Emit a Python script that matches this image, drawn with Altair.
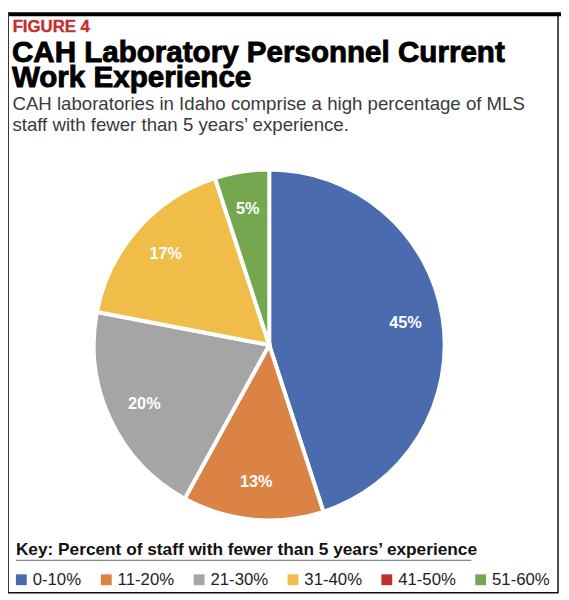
import altair as alt
import pandas as pd

# ---- data ----
categories = ["0-10%", "11-20%", "21-30%", "31-40%", "41-50%", "51-60%"]
shares = [45, 13, 20, 17, 0, 5]
colors = ["#4A6CAF", "#DB8245", "#A5A5A5", "#F0BD48", "#C0302F", "#74A74F"]

figure_label = ["FIGURE 4"]
title_lines = ["CAH Laboratory Personnel Current", "Work Experience"]
subtitle_lines = ["CAH laboratories in Idaho comprise a high percentage of MLS",
                  "staff with fewer than 5 years\u2019 experience."]
key_title = ["Key: Percent of staff with fewer than 5 years\u2019 experience"]

df = pd.DataFrame({"cat": categories, "value": shares, "idx": list(range(len(categories)))})
df["label"] = df["value"].astype(str) + "%"

OFF = 8  # page margin
CX, CY = 273 - OFF, 345.5 - OFF

pie = alt.Chart(df).mark_arc(outerRadius=178, stroke="white", strokeWidth=4).encode(
    theta=alt.Theta("value:Q", stack=True),
    order=alt.Order("idx:Q"),
    color=alt.Color(
        "cat:N",
        scale=alt.Scale(domain=categories, range=colors),
        sort=categories,
        legend=alt.Legend(
            orient="none", legendX=13 - OFF, legendY=575 - OFF, direction="horizontal",
            title=None, symbolType="square", symbolSize=121, symbolStrokeWidth=0,
            labelFont="Liberation Sans", labelFontSize=17, labelColor="#222222",
            labelOffset=3, columnPadding=16.2, padding=0, symbolOpacity=1,
        ),
    ),
    x=alt.value(CX), y=alt.value(CY),
)

labels = alt.Chart(df).transform_filter("datum.value > 0").mark_text(
    radius=140, font="Liberation Sans", fontWeight="bold", fontSize=16.5, color="white",
    align="center", baseline="middle",
).encode(
    theta=alt.Theta("value:Q", stack=True),
    order=alt.Order("idx:Q"),
    text="label:N",
    x=alt.value(CX), y=alt.value(CY),
)

def text_layer(lines, x, y0, dy, **kw):
    d = pd.DataFrame({"t": lines, "i": list(range(len(lines)))})
    return alt.Chart(d).transform_calculate(yy=f"{y0} + datum.i * {dy}").mark_text(
        align="left", baseline="alphabetic", **kw
    ).encode(
        x=alt.value(x), y=alt.Y("yy:Q", scale=None), text="t:N"
    )

fig = text_layer(figure_label, 12.7 - OFF, 27.7 - OFF, 0, font="Liberation Sans",
                 fontWeight="bold", fontSize=17, color="#C4302B", stroke="#C4302B", strokeWidth=0.4)
title = text_layer(title_lines, 12 - OFF, 58.5 - OFF, 25.7, font="Liberation Sans",
                   fontWeight="bold", fontSize=30, color="black", stroke="black", strokeWidth=0.9)
subtitle = text_layer(subtitle_lines, 12.5 - OFF, 107.7 - OFF, 20.6, font="Liberation Sans",
                      fontSize=18.9, color="#3a3a3a")
key = text_layer(key_title, 16 - OFF, 558.3 - OFF, 0, font="Liberation Sans",
                 fontWeight="bold", fontSize=17.5, color="#111111")

underline = alt.Chart(pd.DataFrame({"a": [0]})).mark_rule(color="#666666", strokeWidth=1).encode(
    x=alt.value(16 - OFF), x2=alt.value(478 - OFF), y=alt.value(564 - OFF)
)

top_bar = alt.Chart(pd.DataFrame({"a": [0]})).mark_rect(color="black").encode(
    x=alt.value(0), x2=alt.value(561), y=alt.value(0), y2=alt.value(4)
)
frame_l = alt.Chart(pd.DataFrame({"a": [0]})).mark_rule(color="#333333", strokeWidth=1).encode(
    x=alt.value(0.5), y=alt.value(0), y2=alt.value(589.5)
)
frame_r = alt.Chart(pd.DataFrame({"a": [0]})).mark_rule(color="#111111", strokeWidth=1.5).encode(
    x=alt.value(566 - OFF), y=alt.value(0), y2=alt.value(589.5)
)
frame_b = alt.Chart(pd.DataFrame({"a": [0]})).mark_rule(color="#111111", strokeWidth=1.5).encode(
    x=alt.value(0), x2=alt.value(566 - OFF), y=alt.value(597 - OFF)
)

chart = alt.layer(
    pie, labels, fig, title, subtitle, key, underline, top_bar, frame_l, frame_r, frame_b
).properties(
    width=561, height=592, padding=0,
    autosize=alt.AutoSizeParams(type="none"),
    background="white",
).configure_view(stroke=None)

chart.save("out.html", embed_options={"renderer": "svg", "actions": False})
